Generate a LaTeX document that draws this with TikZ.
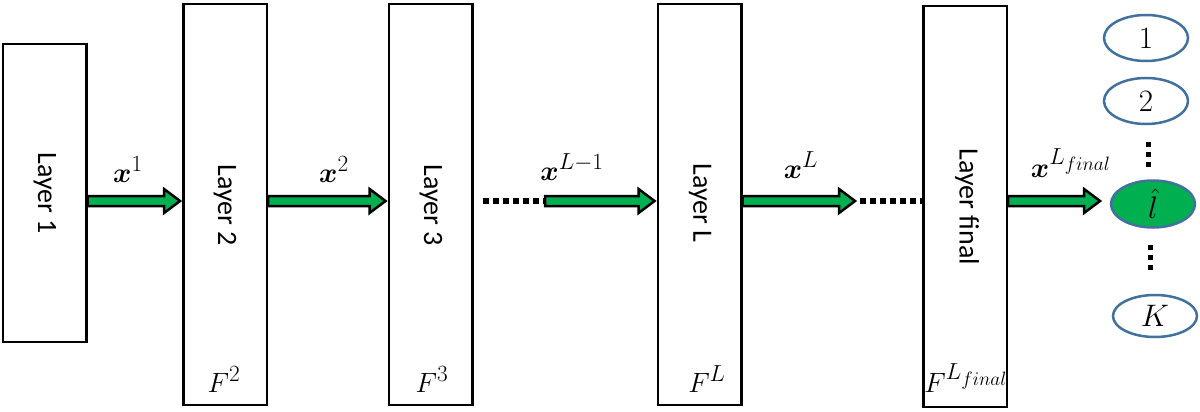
\documentclass[tikz,border=0pt]{standalone}
\usepackage{amsmath}
\usepackage{fontspec}
\newfontfamily\calib{Carlito}
\usetikzlibrary{calc,shapes.geometric}
\definecolor{agreen}{HTML}{00B050}
\definecolor{ablue}{HTML}{41719C}
\newcommand{\mbig}[1]{\scalebox{1.12}{#1}}
\newcommand{\ebig}[1]{\scalebox{1.25}{#1}}
\begin{document}
\begin{tikzpicture}[x=1pt,y=-1pt,
  layerbox/.style={draw=black,line width=2.5pt,fill=white,inner sep=0pt,minimum width=83.5pt},
  ltext/.style={font=\calib\fontsize{28}{30}\selectfont,rotate=-90,inner sep=0pt},
  mlabel/.style={font=\fontsize{24.88}{28}\selectfont,inner sep=0pt,anchor=base},
  fatarrow/.style={draw=black,line width=2.5pt,fill=agreen,line join=miter,
    to path={let \p1=(\tikztostart),\p2=(\tikztotarget) in
      (\x1,\y1+5pt) -- (\x2-16pt,\y1+5pt) -- (\x2-16pt,\y1+12pt) -- (\x2,\y1)
      -- (\x2-16pt,\y1-12pt) -- (\x2-16pt,\y1-5pt) -- (\x1,\y1-5pt) -- cycle}},
  dotline/.style={line width=6pt,dash pattern=on 6pt off 4pt},
  vdotline/.style={line width=5pt,dash pattern=on 5pt off 5pt},
  ell/.style={ellipse,draw=ablue,line width=2.5pt,inner sep=0pt,minimum width=84pt,minimum height=46pt,font=\fontsize{24.88}{28}\selectfont}
]
\useasboundingbox (0,0) rectangle (1200,412);
% layer boxes
\node[layerbox,minimum height=297.5pt] (l1) at (44.5,193) {};
\node[layerbox,minimum height=400.5pt] (l2) at (225,204.5) {};
\node[layerbox,minimum height=400.5pt] (l3) at (430.5,204.5) {};
\node[layerbox,minimum height=400.5pt] (l4) at (699.5,204.5) {};
\node[layerbox,minimum height=400.5pt] (l5) at (965,206.5) {};
% layer texts
\node[ltext] (t1) at (45,193) {Layer 1};
\node[ltext] (t2) at (225,205) {Layer 2};
\node[ltext] (t3) at (431,205) {Layer 3};
\node[ltext] (t4) at (700,203) {Layer L};
\node[ltext] (t5) at (967,207) {Layer final};
% F labels
\node[mlabel] (f2) at (224,392) {\mbig{$F^2$}};
\node[mlabel] (f3) at (432,392) {\mbig{$F^3$}};
\node[mlabel] (f4) at (707,392) {\mbig{$F^L$}};
\node[mlabel] (f5) at (966,392) {\mbig{$F^{L_{final}}$}};
% output ellipses
\node[ell] (o1) at (1146,38) {\ebig{1}};
\node[ell] (o2) at (1146,101) {\ebig{2}};
\node[ell,fill=agreen,minimum height=47pt] (ol) at (1153,204) {\ebig{$\hat{l}$}};
\node[ell,minimum height=42pt] (ok) at (1155,316) {\ebig{$K$}};
% coordinates
\coordinate (d1s) at (483,201);
\coordinate (a3s) at (545,201);
\coordinate (a4e) at (855,201);
\coordinate (d2s) at (860,201);
\coordinate (a5e) at (1100,201);
\coordinate (v1s) at (1148,142);
\coordinate (v1e) at (1148,167);
\coordinate (v2s) at (1150,245);
\coordinate (v2e) at (1150,270);
% arrows
\draw[fatarrow] (l1.east |- 0,201) to ($(l2.west |- 0,201)+(-2,0)$);
\draw[fatarrow] (l2.east |- 0,201) to ($(l3.west |- 0,201)+(-2,0)$);
\draw[fatarrow] (a3s) to ($(l4.west |- 0,201)+(-2,0)$);
\draw[fatarrow] (l4.east |- 0,201) to (a4e);
\draw[fatarrow] (l5.east |- 0,201) to (a5e);
% dotted
\draw[dotline] (d1s) -- (a3s);
\draw[dotline] (d2s) -- (l5.west |- 0,201);
\draw[vdotline] (v1s) -- (v1e);
\draw[vdotline] (v2s) -- (v2e);
% arrow labels
\node[mlabel] (x1) at (128,182) {\mbig{$\boldsymbol{x}^1$}};
\node[mlabel] (x2) at (334,182) {\mbig{$\boldsymbol{x}^2$}};
\node[mlabel] (x3) at (572,180) {\mbig{$\boldsymbol{x}^{L-1}$}};
\node[mlabel] (x4) at (801,178) {\mbig{$\boldsymbol{x}^{L}$}};
\node[mlabel] (x5) at (1071,177) {\mbig{$\boldsymbol{x}^{L_{final}}$}};
\end{tikzpicture}
\end{document}
